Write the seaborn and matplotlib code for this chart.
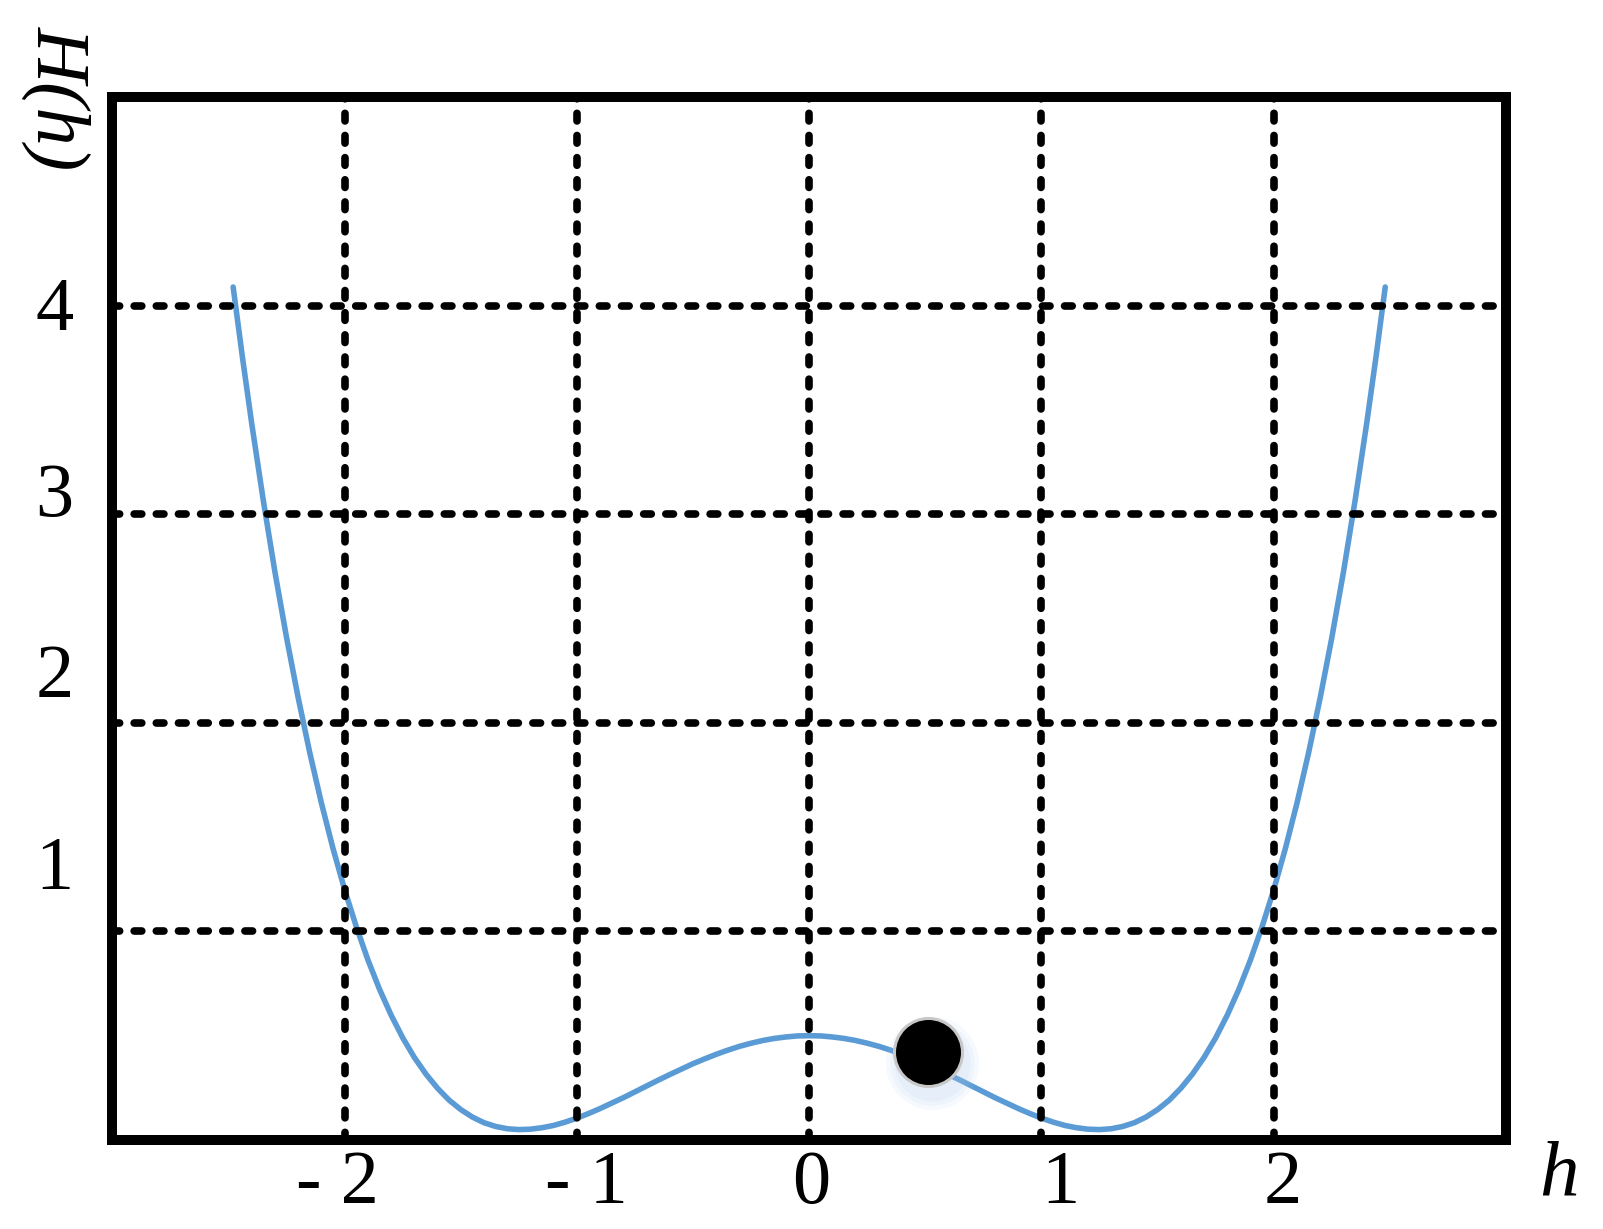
import matplotlib
matplotlib.use("Agg")
import matplotlib.pyplot as plt
import seaborn as sns
import pandas as pd

# curve H(h) (double well)
h_vals = [-2.48, -2.44, -2.4, -2.35, -2.3, -2.25, -2.2, -2.15, -2.1, -2.05,
          -2.0, -1.95, -1.9, -1.85, -1.8, -1.75, -1.7, -1.65, -1.6, -1.55,
          -1.5, -1.45, -1.4, -1.35, -1.3, -1.25, -1.2, -1.15, -1.1, -1.05,
          -1.0, -0.95, -0.9, -0.85, -0.8, -0.75, -0.7, -0.65, -0.6, -0.55,
          -0.5, -0.45, -0.4, -0.35, -0.3, -0.25, -0.2, -0.15, -0.1, -0.05,
          0.0, 0.05, 0.1, 0.15, 0.2, 0.25, 0.3, 0.35, 0.4, 0.45,
          0.5, 0.55, 0.6, 0.65, 0.7, 0.75, 0.8, 0.85, 0.9, 0.95,
          1.0, 1.05, 1.1, 1.15, 1.2, 1.25, 1.3, 1.35, 1.4, 1.45,
          1.5, 1.55, 1.6, 1.65, 1.7, 1.75, 1.8, 1.85, 1.9, 1.95,
          2.0, 2.05, 2.1, 2.15, 2.2, 2.25, 2.3, 2.35, 2.4, 2.44, 2.48]
H_vals = [4.089, 3.752, 3.434, 3.064, 2.722, 2.408, 2.120, 1.856, 1.615, 1.397,
          1.200, 1.023, 0.864, 0.723, 0.599, 0.490, 0.396, 0.316, 0.248, 0.191,
          0.146, 0.110, 0.083, 0.065, 0.054, 0.050, 0.052, 0.059, 0.070, 0.086,
          0.105, 0.127, 0.151, 0.177, 0.203, 0.231, 0.259, 0.287, 0.314, 0.340,
          0.366, 0.389, 0.411, 0.431, 0.449, 0.464, 0.477, 0.487, 0.494, 0.499,
          0.500, 0.499, 0.494, 0.487, 0.477, 0.464, 0.449, 0.431, 0.411, 0.389,
          0.366, 0.340, 0.314, 0.287, 0.259, 0.231, 0.203, 0.177, 0.151, 0.127,
          0.105, 0.086, 0.070, 0.059, 0.052, 0.050, 0.054, 0.065, 0.083, 0.110,
          0.146, 0.191, 0.248, 0.316, 0.396, 0.490, 0.599, 0.723, 0.864, 1.023,
          1.200, 1.397, 1.615, 1.856, 2.120, 2.408, 2.722, 3.064, 3.434, 3.752,
          4.089]

# ball on the curve
ball_h = [0.51]
ball_H = [0.42]

# grid lines and tick labels
grid_x = [-2, -1, 0, 1, 2]
grid_y = [1, 2, 3, 4]
xtick_pos = [-2.03, -0.96, 0.01, 1.08, 2.04]
xtick_labels = ["- 2", "- 1", "0", "1", "2"]
ytick_pos = [1.33, 2.25, 3.12, 4.01]
ytick_labels = ["1", "2", "3", "4"]

sns.set_style("white")
plt.rcParams["font.family"] = ["Liberation Serif", "DejaVu Serif"]
plt.rcParams["text.color"] = "black"

df = pd.DataFrame({"h": h_vals, "H": H_vals})
ball = pd.DataFrame({"h": ball_h, "H": ball_H})

fig = plt.figure(figsize=(16.03, 12.29), dpi=100)
ax = fig.add_axes([0.0701, 0.0724, 0.8694, 0.8487])

sns.lineplot(data=df, x="h", y="H", ax=ax, color="#5b9bd5", linewidth=4.0,
             sort=False, zorder=2)

dash = (0, (1.0, 1.9))
for gx in grid_x:
    ax.axvline(gx, color="black", lw=5.5, linestyle=dash,
               dash_capstyle="round", zorder=3)
for gy in grid_y:
    ax.axhline(gy, color="black", lw=5.5, linestyle=dash,
               dash_capstyle="round", zorder=3)

# soft blue shadow under the ball
for s in [3000, 3700, 4500]:
    ax.scatter([ball_h[0] + 0.02], [ball_H[0] - 0.05], s=s, color="#a9cbee",
               alpha=0.10, linewidths=0, zorder=4)
sns.scatterplot(data=ball, x="h", y="H", ax=ax, s=2400, color="black",
                edgecolor="#c8c8c8", linewidth=2.2, zorder=5, legend=False)

ax.set_xlim(-3, 3)
ax.set_ylim(0, 5)
ax.set_xticks(xtick_pos)
ax.set_xticklabels(xtick_labels)
ax.set_yticks(ytick_pos)
ax.set_yticklabels(ytick_labels)
ax.tick_params(axis="both", length=0, labelsize=55, labelcolor="black")
ax.tick_params(axis="x", pad=7)
ax.tick_params(axis="y", pad=28)
ax.set_xlabel("")
ax.set_ylabel("")

for sp in ax.spines.values():
    sp.set_visible(True)
    sp.set_color("black")
    sp.set_linewidth(7.2)
    sp.set_capstyle("projecting")
    sp.set_zorder(6)

ax.text(1.038, -0.035, "h", transform=ax.transAxes, fontsize=57,
        style="italic", ha="center", va="center")
ax.text(-0.040, 0.999, "H(h)", transform=ax.transAxes, fontsize=55,
        style="italic", ha="center", va="center", rotation=-90)

fig.savefig("out.png", dpi=100)
